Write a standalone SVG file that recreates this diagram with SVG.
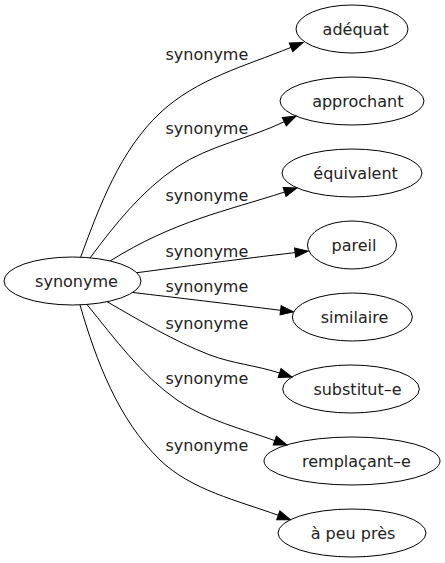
<svg xmlns="http://www.w3.org/2000/svg" width="445" height="563" viewBox="0 0 445 563">
<style>
  .node ellipse { fill: none; stroke: #000; stroke-width: 1; }
  .node text { font-family: "DejaVu Sans", "Liberation Sans", sans-serif; font-size: 16px; fill: #222; text-anchor: middle; }
  .edges path { fill: none; stroke: #000; stroke-width: 1; }
  .lbl { font-family: "DejaVu Sans", "Liberation Sans", sans-serif; font-size: 16px; fill: #222; }
</style>
<defs>
  <marker id="arrow" markerUnits="userSpaceOnUse" markerWidth="14" markerHeight="10" refX="0" refY="4.7" orient="auto" overflow="visible">
    <path d="M0,0 L13,4.7 L0,9.4 Z" fill="#000" stroke="#000" stroke-width="1"/>
  </marker>
</defs>
<rect width="445" height="563" fill="#fff"/>
<g class="edges">
  <path marker-end="url(#arrow)" d="M80.7,257 C100,205 120,150.7 160,113 C196.5,78.8 244.6,66.2 291,47.4"/>
  <path marker-end="url(#arrow)" d="M90,258 C115,224.3 142.1,190.4 177,167 C208.5,145.8 250.1,138.3 284.3,121.7"/>
  <path marker-end="url(#arrow)" d="M110,261 C174,221 225.7,211.2 284.6,192"/>
  <path marker-end="url(#arrow)" d="M137,272.7 C180,267 240,259 295.1,252.6"/>
  <path marker-end="url(#arrow)" d="M133,292.5 C175,297.5 230,304 280.6,310.3"/>
  <path marker-end="url(#arrow)" d="M107,301.7 C140,320.6 174.5,341.5 210,355 C232.4,363.5 256.8,365.6 279.6,373"/>
  <path marker-end="url(#arrow)" d="M87,304.5 C115,339 141,374.7 177,400 C205.7,420.1 241.9,428.7 274.8,440.6"/>
  <path marker-end="url(#arrow)" d="M80,305 C96.1,360.7 118.4,419.6 160,460 C190.9,489.9 237.9,500.7 278.3,515.3"/>
  <text class="lbl" x="165.5" y="60">synonyme</text>
  <text class="lbl" x="165.5" y="134">synonyme</text>
  <text class="lbl" x="165.5" y="201">synonyme</text>
  <text class="lbl" x="165.5" y="257">synonyme</text>
  <text class="lbl" x="165.5" y="292">synonyme</text>
  <text class="lbl" x="165.5" y="329">synonyme</text>
  <text class="lbl" x="165.5" y="384">synonyme</text>
  <text class="lbl" x="165.5" y="451">synonyme</text>
</g>
<g id="node-synonyme" class="node"><ellipse cx="72.5" cy="281" rx="68.5" ry="24"/><text x="76.5" y="286.5">synonyme</text></g>
<g id="node-adequat" class="node"><ellipse cx="352" cy="29" rx="56" ry="24"/><text x="355.7" y="34.5">adéquat</text></g>
<g id="node-approchant" class="node"><ellipse cx="352" cy="101" rx="72" ry="24"/><text x="357.8" y="106.5">approchant</text></g>
<g id="node-equivalent" class="node"><ellipse cx="352" cy="173" rx="70" ry="24"/><text x="355.6" y="178.5">équivalent</text></g>
<g id="node-pareil" class="node"><ellipse cx="352" cy="245" rx="44.5" ry="24"/><text x="354" y="250.5">pareil</text></g>
<g id="node-similaire" class="node"><ellipse cx="352.3" cy="317" rx="60" ry="24"/><text x="354.5" y="322.5">similaire</text></g>
<g id="node-substitut" class="node"><ellipse cx="351" cy="389" rx="68.3" ry="24"/><text x="357.5" y="394.5">substitut–e</text></g>
<g id="node-remplacant" class="node"><ellipse cx="352" cy="461" rx="88" ry="24"/><text x="356.5" y="466.5">remplaçant–e</text></g>
<g id="node-apeupres" class="node"><ellipse cx="352" cy="533" rx="74" ry="24"/><text x="353" y="538.5">à peu près</text></g>
</svg>
